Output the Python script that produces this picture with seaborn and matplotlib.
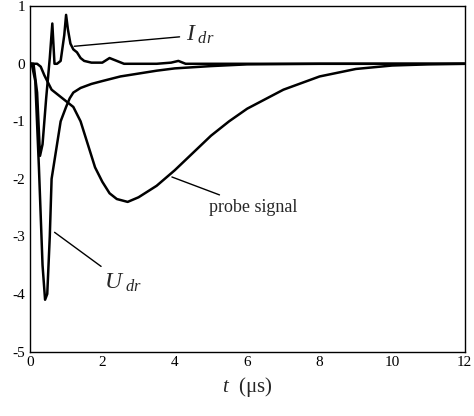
import matplotlib
matplotlib.use("Agg")
import matplotlib.pyplot as plt
import seaborn as sns
import pandas as pd

sns.set_style("white")
plt.rcParams['font.family'] = ['Liberation Serif', 'DejaVu Serif']
plt.rcParams['mathtext.fontset'] = 'custom'
plt.rcParams['mathtext.rm'] = 'Liberation Serif'
plt.rcParams['mathtext.it'] = 'Liberation Serif:italic'
plt.rcParams['axes.unicode_minus'] = False

t_i = [0, 0.1, 0.2, 0.28, 0.35, 0.45, 0.55, 0.62, 0.68, 0.75, 0.85, 0.95, 1.0, 1.05, 1.12, 1.2, 1.3, 1.4, 1.5, 1.7, 2.0, 2.2, 2.4, 2.6, 3.0, 3.5, 3.9, 4.1, 4.3, 5, 6, 8, 10, 12]
i_dr = [0, 0, -0.5, -1.6, -1.4, -0.6, 0.1, 0.7, 0.0, 0.0, 0.05, 0.5, 0.85, 0.6, 0.35, 0.25, 0.2, 0.1, 0.05, 0.02, 0.02, 0.1, 0.05, 0.0, 0.0, 0.0, 0.02, 0.05, 0.0, 0, 0, 0, 0, 0]
t_u = [0, 0.05, 0.15, 0.25, 0.35, 0.42, 0.48, 0.55, 0.6, 0.65, 0.75, 0.85, 1.0, 1.1, 1.2, 1.4, 1.7, 2.0, 2.5, 3.0, 3.5, 4.0, 5.0, 6.0, 8.0, 12.0]
u_dr = [0, 0, -0.3, -1.8, -3.5, -4.1, -4.0, -3.0, -2.0, -1.8, -1.4, -1.0, -0.75, -0.6, -0.5, -0.42, -0.35, -0.3, -0.22, -0.17, -0.12, -0.08, -0.04, -0.01, 0, 0]
t_p = [0, 0.2, 0.3, 0.4, 0.6, 0.9, 1.2, 1.4, 1.6, 1.8, 2.0, 2.2, 2.4, 2.7, 3.0, 3.5, 4.0, 4.5, 5.0, 5.5, 6.0, 7.0, 8.0, 9.0, 10.0, 11.0, 12.0]
probe = [0, 0, -0.05, -0.2, -0.45, -0.6, -0.75, -1.0, -1.4, -1.8, -2.05, -2.25, -2.35, -2.4, -2.32, -2.12, -1.85, -1.55, -1.25, -1.0, -0.78, -0.45, -0.22, -0.09, -0.03, -0.01, 0]

fig, ax = plt.subplots(figsize=(4.74, 4.16), dpi=100)
fig.subplots_adjust(left=0.063, right=0.98, top=0.985, bottom=0.155)
for tt, yy in [(t_i, i_dr), (t_u, u_dr), (t_p, probe)]:
    sns.lineplot(x=tt, y=yy, ax=ax, color="black", linewidth=1.8, sort=False)

ax.set_xlim(0, 12)
ax.set_ylim(-5, 1)
ax.set_xticks(range(0, 13, 2))
ax.set_yticks(range(-5, 2))
for s in ax.spines.values():
    s.set_color("black"); s.set_linewidth(1)
ax.tick_params(direction="in", length=4, labelsize=11, colors="black")
ax.set_xlabel(r"$t$  (μs)", fontsize=15)

ax.annotate(r"$I_{\ dr}$", xy=(1.15, 0.3), xytext=(4.3, 0.5), fontsize=17,
            arrowprops=dict(arrowstyle="-", color="black", lw=1), va="center")
ax.annotate(r"$U_{\ dr}$", xy=(0.62, -2.9), xytext=(2.05, -3.8), fontsize=17,
            arrowprops=dict(arrowstyle="-", color="black", lw=1), va="center")
ax.annotate("probe signal", xy=(3.85, -1.95), xytext=(4.95, -2.5), fontsize=13,
            arrowprops=dict(arrowstyle="-", color="black", lw=1), va="center")
fig.savefig("out.png", dpi=100)
